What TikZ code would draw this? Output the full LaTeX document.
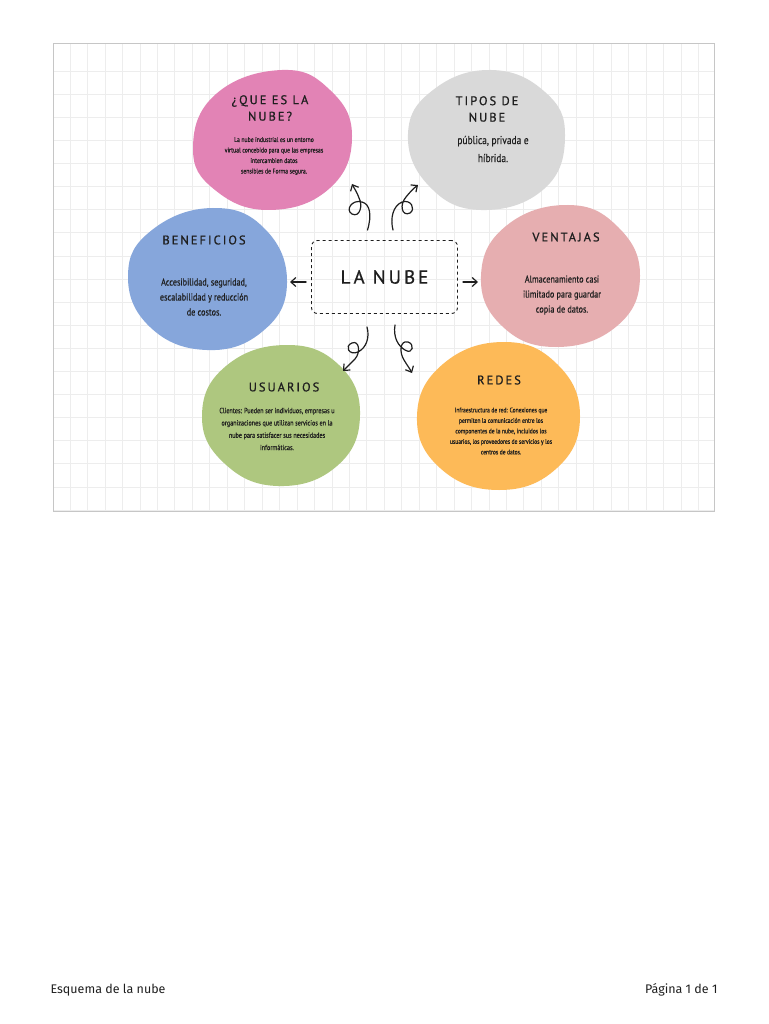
\documentclass[tikz,border=0pt]{standalone}
\usepackage{fontspec}
\setmainfont{PT Sans}
\newfontfamily\titulo[LetterSpace=16,FakeBold=0.8]{PT Sans}
\newfontfamily\texto[FakeStretch=0.82,FakeBold=0.4]{PT Sans}
\newfontfamily\pie{Fira Sans}
\usetikzlibrary{arrows.meta}

\definecolor{rosa}{HTML}{E283B5}
\definecolor{gris}{HTML}{D9D9D9}
\definecolor{azul}{HTML}{86A6DB}
\definecolor{salmon}{HTML}{E6AEB0}
\definecolor{verde}{HTML}{AEC77F}
\definecolor{naranja}{HTML}{FDBA58}
\definecolor{tinta}{HTML}{1E1E1E}

\tikzset{
  rejilla/.style={line width=0.5pt,gray!14},
  burbuja/.style={smooth cycle,tension=0.75},
  titulo/.style={font=\titulo\fontsize{12.5}{16.5}\selectfont,align=center,text=tinta},
  chico/.style={font=\texto\fontsize{7}{10.5}\selectfont,align=center,text=tinta},
  grande/.style={font=\texto\fontsize{10}{15}\selectfont,align=center,text=tinta},
  flecha/.style={-{Straight Barb[length=5pt,width=9pt]},line width=1.2pt,line cap=round,tinta},
}

\begin{document}
\begin{tikzpicture}[x=1pt,y=-1pt]
  \useasboundingbox (0,0) rectangle (768,1024);

  %hoja cuadriculada
	\fill[white] (53,44) rectangle (714,511);
	\foreach \x in {70,87.45,...,712} \draw[rejilla] (\x,44) -- (\x,511);
	\foreach \y in {71,94.1,...,510} \draw[rejilla] (53,\y) -- (714,\y);
	\draw[gray!45,line width=1pt] (53,44) rectangle (714,511);

  %burbujas
	\fill[rosa,shift={(272,140)}] plot[burbuja] coordinates
		{(80,-4) (58,48) (-2,70) (-57,50) (-79,8) (-56,-46) (10,-70) (58,-50)};
	\fill[gris,shift={(487,140)}] plot[burbuja] coordinates
		{(78,-4) (57,49) (-6,70) (-58,46) (-79,-6) (-54,-50) (4,-70) (58,-48)};
	\fill[azul,shift={(207,279)}] plot[burbuja] coordinates
		{(80,4) (56,52) (0,71) (-57,48) (-79,-4) (-55,-49) (6,-71) (58,-50)};
	\fill[salmon,shift={(560,276)}] plot[burbuja] coordinates
		{(80,0) (57,50) (-4,71) (-58,50) (-79,0) (-54,-50) (8,-71) (58,-49)};
	\fill[verde,shift={(281,415)}] plot[burbuja] coordinates
		{(79,0) (56,51) (-3,71) (-57,48) (-79,0) (-55,-49) (5,-70) (58,-50)};
	\fill[naranja,shift={(499,416)}] plot[burbuja] coordinates
		{(81,0) (58,52) (0,74) (-59,52) (-82,0) (-56,-52) (5,-74) (58,-52)};

  %textos de las burbujas
	\node[titulo] (tQue) at (270,108) {¿QUE ES LA\\NUBE?};
	\node[chico] (xQue) at (274,156) {La nube industrial es un entorno\\virtual concebido para que las empresas\\intercambien datos\\sensibles de Forma segura.};

	\node[titulo] (tTipos) at (487,109) {TIPOS DE\\NUBE};
	\node[grande,font=\texto\fontsize{11.5}{18}\selectfont] (xTipos) at (493,149) {pública, privada e\\híbrida.};

	\node[titulo] (tBen) at (204,240) {BENEFICIOS};
	\node[grande] (xBen) at (204,297) {Accesibilidad, seguridad,\\escalabilidad y reducción\\de costos.};

	\node[titulo] (tVen) at (566,237) {VENTAJAS};
	\node[grande] (xVen) at (562,295) {Almacenamiento casi\\ilimitado para guardar\\copia de datos.};

	\node[titulo] (tUsu) at (284,387) {USUARIOS};
	\node[chico,font=\texto\fontsize{7.5}{12.3}\selectfont] (xUsu) at (277,429) {Clientes: Pueden ser individuos, empresas u\\organizaciones que utilizan servicios en la\\nube para satisfacer sus necesidades\\informáticas.};

	\node[titulo] (tRed) at (499,380) {REDES};
	\node[chico,font=\texto\fontsize{6.8}{10.5}\selectfont] (xRed) at (501,431) {Infraestructura de red: Conexiones que\\permiten la comunicación entre los\\componentes de la nube, incluidos los\\usuarios, los proveedores de servicios y los\\centros de datos.};

  %caja central
	\node[draw=tinta,dashed,line width=0.9pt,rounded corners=6pt,minimum width=146,minimum height=73,
		font=\titulo\fontsize{19}{22}\selectfont,text=tinta] (nube) at (384.5,277) {LA NUBE};

  %puntas de las flechas
	\coordinate (fQue) at (352,184);
	\coordinate (fTipos) at (418,185);
	\coordinate (fBen) at (290,282);
	\coordinate (fVen) at (478,282);
	\coordinate (fUsu) at (343,371);
	\coordinate (fRed) at (412,373);

  %flechas rectas
	\draw[flecha] ([shift={(-5,5)}]nube.west) -- (fBen);
	\draw[flecha] ([shift={(5,5)}]nube.east) -- (fVen);

  %flechas con rulo
	\draw[flecha] ([shift={(-17,-10)}]nube.north) .. controls (372,215) and (370,204) .. (362,202)
		.. controls (352,199) and (345,210) .. (352,214) .. controls (360,218) and (363,205) .. (359,198)
		.. controls (357,192) and (354,188) .. (fQue);
	\draw[flecha] ([shift={(8.5,-10)}]nube.north) .. controls (390,218) and (393,206) .. (402,202)
		.. controls (411,199) and (416,209) .. (410,213) .. controls (402,217) and (399,205) .. (406,197)
		.. controls (410,192) and (414,188) .. (fTipos);
	\draw[flecha] ([shift={(-17.5,13)}]nube.south) .. controls (370,338) and (366,348) .. (358,352)
		.. controls (349,356) and (344,346) .. (352,343) .. controls (359,340) and (361,352) .. (355,359)
		.. controls (350,364) and (346,368) .. (fUsu);
	\draw[flecha] ([shift={(10.5,11)}]nube.south) .. controls (393,337) and (398,346) .. (405,350)
		.. controls (413,355) and (415,344) .. (408,342) .. controls (400,340) and (399,352) .. (404,360)
		.. controls (407,365) and (410,369) .. (fRed);

  %pie de pagina
	\node[font=\pie\fontsize{12.5}{15}\selectfont,text=tinta,anchor=base west] (pieIzq) at (47,993) {Esquema de la nube};
	\node[font=\pie\fontsize{12.5}{15}\selectfont,text=tinta,anchor=base east] (pieDer) at (721,993) {Página 1 de 1};
\end{tikzpicture}
\end{document}
